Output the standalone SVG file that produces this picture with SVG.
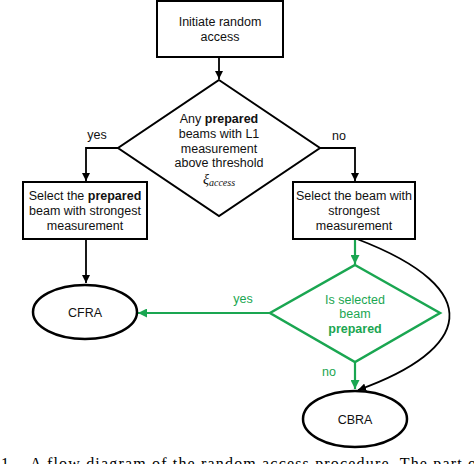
<svg xmlns="http://www.w3.org/2000/svg" width="474" height="464" viewBox="0 0 474 464">
<style>
.box{fill:#fff;stroke:#000;stroke-width:2}
.ell{fill:#fff;stroke:#000;stroke-width:2.5}
.gd{fill:#fff;stroke:#1aa651;stroke-width:2.5}
.t{font-family:"Liberation Sans",Arial,sans-serif;font-size:12.5px;text-anchor:middle;fill:#111}
.g{fill:#1aa651}
.b{font-weight:bold}
.blk{stroke:#000;stroke-width:1.8;fill:none}
.grn{stroke:#1aa651;stroke-width:2.2;fill:none}
.cap{font-family:"Liberation Serif","Times New Roman",serif;font-size:16px;fill:#000}
</style>
<defs>
<marker id="ab" viewBox="0 0 10 10" refX="10" refY="5" markerWidth="8" markerHeight="8" markerUnits="userSpaceOnUse" orient="auto"><path d="M0,0 L10,5 L0,10 z" fill="#000"/></marker>
<marker id="ag" viewBox="0 0 10 10" refX="10" refY="5" markerWidth="9" markerHeight="9" markerUnits="userSpaceOnUse" orient="auto"><path d="M0,0 L10,5 L0,10 z" fill="#1aa651"/></marker>
</defs>
<rect width="474" height="464" fill="#fff"/>
<g id="connectors">
<path class="blk" d="M219,57 V79" marker-end="url(#ab)"/>
<path class="blk" d="M118,148 H86 V181" marker-end="url(#ab)"/>
<path class="blk" d="M320,148 H355 V181" marker-end="url(#ab)"/>
<path class="blk" d="M86,239 V283" marker-end="url(#ab)"/>
<path class="grn" d="M355,239 V264" marker-end="url(#ag)"/>
<path class="grn" d="M270,313 H138" marker-end="url(#ag)"/>
<path class="grn" d="M355,362 V389" marker-end="url(#ag)"/>
<path class="blk" d="M357,239 C490,290 470,350 358,390" marker-end="url(#ab)"/>
<text class="t" x="97" y="139">yes</text>
<text class="t" x="339" y="140">no</text>
<text class="t g" x="243" y="303">yes</text>
<text class="t g" x="329" y="376">no</text>
</g>
<g id="start">
<rect class="box" x="157" y="1" width="126" height="56"/>
<text class="t" x="220" y="26">Initiate random</text>
<text class="t" x="220" y="41">access</text>
</g>
<g id="decision1">
<path class="box" d="M219,80 L320,148 L219,216 L118,148 z"/>
<text class="t" x="219" y="123">Any <tspan class="b">prepared</tspan></text>
<text class="t" x="219" y="138">beams with L1</text>
<text class="t" x="219" y="153">measurement</text>
<text class="t" x="219" y="167">above threshold</text>
<text x="219" y="184" text-anchor="middle" style="font-family:'Liberation Serif','Times New Roman',serif;font-style:italic;font-size:14px" fill="#111">ξ<tspan font-size="10" dy="2">access</tspan></text>
</g>
<g id="select-prepared">
<rect class="box" x="23" y="182" width="124" height="57"/>
<text class="t" x="85" y="200">Select the <tspan class="b">prepared</tspan></text>
<text class="t" x="85" y="215">beam with strongest</text>
<text class="t" x="85" y="230">measurement</text>
</g>
<g id="select-beam">
<rect class="box" x="293" y="182" width="122" height="57"/>
<text class="t" x="354" y="200">Select the beam with</text>
<text class="t" x="354" y="215">strongest</text>
<text class="t" x="354" y="230">measurement</text>
</g>
<g id="decision2">
<path class="gd" d="M355,265 L440,313 L355,362 L270,313 z"/>
<text class="t g" x="355" y="304">Is selected</text>
<text class="t g" x="355" y="318">beam</text>
<text class="t g b" x="355" y="333">prepared</text>
</g>
<g id="cfra">
<ellipse class="ell" cx="85" cy="312" rx="52" ry="27"/>
<text class="t" x="85" y="317">CFRA</text>
</g>
<g id="cbra">
<ellipse class="ell" cx="355" cy="419" rx="52" ry="28"/>
<text class="t" x="355" y="424">CBRA</text>
</g>
<text class="cap" x="1" y="469">1.</text>
<text class="cap" x="30" y="469" textLength="446" lengthAdjust="spacing">A flow diagram of the random access procedure. The part o</text>
</svg>
